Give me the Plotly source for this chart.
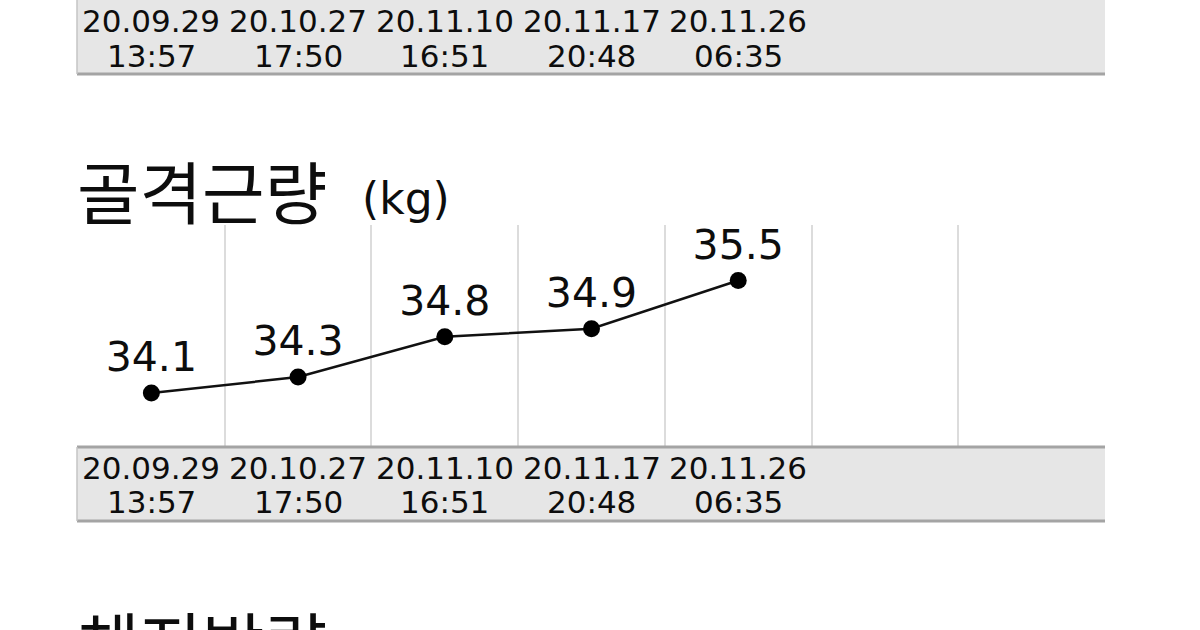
import plotly.graph_objects as go

# measurement dates (two-line labels) and skeletal muscle mass
dates = ['20.09.29', '20.10.27', '20.11.10', '20.11.17', '20.11.26']
times = ['13:57', '17:50', '16:51', '20:48', '06:35']
muscle_kg = [34.1, 34.3, 34.8, 34.9, 35.5]
n_slots = 7  # columns on the sheet, only 5 filled

title_main = '골격근량'
title_next = '체지방량'
unit = '(kg)'

W, H = 1200, 630
NUM_FONT = 'DejaVu Sans'
KR_FONT = 'Noto Sans CJK KR'
INK = '#0d0d0d'


def px(x):
    return x / W


def py(y):
    # pixel row from the top -> paper coordinate
    return 1 - y / H


x_idx = list(range(len(muscle_kg)))

fig = go.Figure()
fig.add_trace(go.Scatter(
    x=x_idx,
    y=muscle_kg,
    mode='lines+markers+text',
    text=[f'{v:.1f}' for v in muscle_kg],
    textposition='top center',
    textfont={'family': NUM_FONT, 'size': 41, 'color': INK},
    line={'color': '#111111', 'width': 2.5},
    marker={'color': '#000000', 'size': 17},
    cliponaxis=False,
    hoverinfo='skip',
))

shapes = []
# gray date bands: one below this chart, and the tail of the previous chart's band on top
for top, bottom in [(-4, 74), (447, 521)]:
    shapes.append(dict(type='rect', xref='paper', yref='paper',
                       x0=px(77), x1=px(1105), y0=py(bottom), y1=py(top),
                       fillcolor='#e6e6e6', line={'width': 0}, layer='below'))
    for yy in (top, bottom):
        shapes.append(dict(type='line', xref='paper', yref='paper',
                           x0=px(77), x1=px(1105), y0=py(yy), y1=py(yy),
                           line={'color': '#a4a4a4', 'width': 3}))
    shapes.append(dict(type='line', xref='paper', yref='paper',
                       x0=px(77), x1=px(77), y0=py(bottom), y1=py(top),
                       line={'color': '#c4c4c4', 'width': 1.5}))

annotations = []
for row1, row2 in [(21, 56), (468, 502)]:
    for i, (d, t) in enumerate(zip(dates, times)):
        annotations.append(dict(x=i, xref='x', y=py(row1), yref='paper', text=d,
                                showarrow=False, xanchor='center', yanchor='middle',
                                font={'family': NUM_FONT, 'size': 31, 'color': INK}))
        annotations.append(dict(x=i, xref='x', y=py(row2), yref='paper', text=t,
                                showarrow=False, xanchor='center', yanchor='middle',
                                font={'family': NUM_FONT, 'size': 31, 'color': INK}))

for title, y_mid in [(title_main, 189), (title_next, 640)]:
    annotations.append(dict(x=px(75), xref='paper', y=py(y_mid), yref='paper', text=title,
                            showarrow=False, xanchor='left', yanchor='middle',
                            font={'family': KR_FONT, 'size': 68, 'color': INK}))
    annotations.append(dict(x=px(360), xref='paper', y=py(y_mid + 9), yref='paper', text=unit,
                            showarrow=False, xanchor='left', yanchor='middle',
                            font={'family': NUM_FONT, 'size': 44, 'color': INK}))

fig.update_layout(
    width=W,
    height=H,
    margin={'l': 0, 'r': 0, 't': 0, 'b': 0},
    paper_bgcolor='white',
    plot_bgcolor='white',
    showlegend=False,
    shapes=shapes,
    annotations=annotations,
    xaxis={
        'domain': [px(78), px(1105)],
        'range': [-0.5, n_slots - 0.5],
        'tickvals': [i - 0.5 for i in range(n_slots)],
        'showticklabels': False,
        'showgrid': True,
        'gridcolor': '#dcdcdc',
        'gridwidth': 2,
        'zeroline': False,
        'showline': False,
        'ticks': '',
    },
    yaxis={
        'domain': [py(447), py(225)],
        'range': [33.43, 36.19],
        'showgrid': False,
        'showticklabels': False,
        'zeroline': False,
        'showline': False,
        'ticks': '',
    },
)

# the page body has a default 8px margin; drop it so the figure sits at the corner
fig.write_html('out.html', config={'displayModeBar': False},
               post_script="document.body.style.margin='0';")
